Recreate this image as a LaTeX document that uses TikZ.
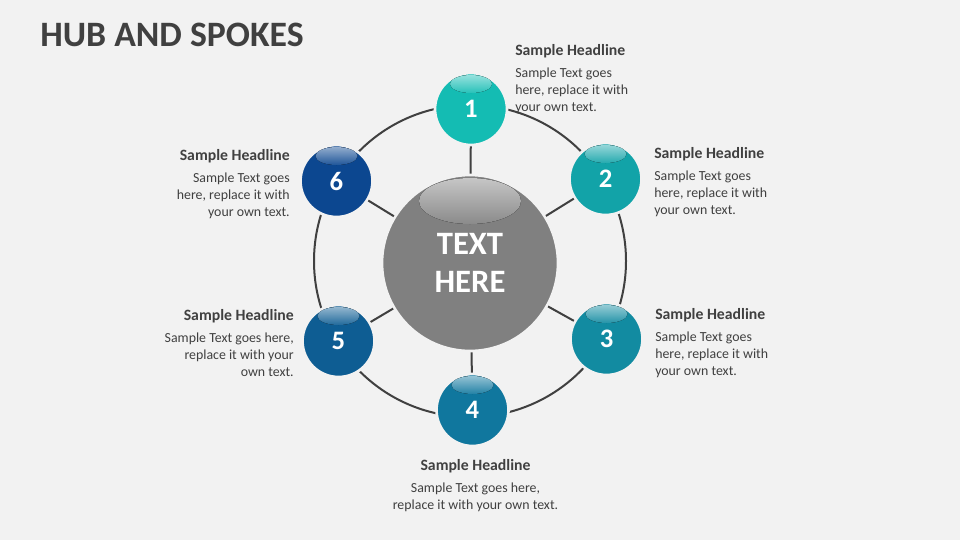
\documentclass[tikz,border=0pt]{standalone}
\usepackage{fontspec}
\setmainfont{Carlito}
\usetikzlibrary{calc}
\definecolor{bgc}{HTML}{F2F2F2}
\definecolor{ink}{HTML}{404040}
\definecolor{hubc}{HTML}{808080}
\definecolor{cOne}{HTML}{14BCB3}
\definecolor{cTwo}{HTML}{12A3A8}
\definecolor{cThree}{HTML}{128BA1}
\definecolor{cFour}{HTML}{10779E}
\definecolor{cFive}{HTML}{0E5D93}
\definecolor{cSix}{HTML}{0C4790}
\newcommand{\headline}[1]{{\bfseries\fontsize{11.8}{12.75}\selectfont #1}}
\begin{document}
\begin{tikzpicture}[
    x=0.75pt, y=-0.75pt,
    spoke/.style={draw=ink, line width=1.5pt},
    hub/.style={circle, fill=hubc, draw=bgc, line width=2pt, minimum size=132pt, text=white, align=center, font=\bfseries\fontsize{24.5}{29}\selectfont},
    num/.style={circle, fill=#1, draw=bgc, line width=2pt, minimum size=54pt, text=white, font=\bfseries\fontsize{20}{20}\selectfont},
    gloss/.style={top color=white!55!#1, bottom color=white!8!#1},
    info/.style={inner sep=0pt, text=ink, font=\fontsize{10.4}{12.75}\selectfont}
]

% Canvas
\useasboundingbox (0,0) rectangle (960,540);
\fill[bgc] (0,0) rectangle (960,540);

% Title
\node[anchor=base west, inner sep=0pt, text=ink, font=\bfseries\fontsize{26.8}{30}\selectfont] (title) at (40,46) {HUB AND SPOKES};

% Hub and ring
\coordinate (c) at (470,261);
\draw[spoke] (c) circle [radius=156];
\node[hub] (hub) at ($(c)+(0,2)$) {TEXT\\HERE};

% Spoke nodes
\node[num=cOne] (n1) at (471,109) {1};
\node[num=cTwo] (n2) at (605.5,179) {2};
\node[num=cThree] (n3) at (606.5,339) {3};
\node[num=cFour] (n4) at (472.5,410) {4};
\node[num=cFive] (n5) at (338.5,341) {5};
\node[num=cSix] (n6) at (336.5,181) {6};

% Spokes
\draw[spoke] (hub) -- (n1);
\draw[spoke] (hub) -- (n2);
\draw[spoke] (hub) -- (n3);
\draw[spoke] (hub) -- (n4);
\draw[spoke] (hub) -- (n5);
\draw[spoke] (hub) -- (n6);

% Glossy highlights
\fill[gloss=hubc] ($(hub.center)+(0,-62)$) ellipse [x radius=51, y radius=23];
\fill[gloss=cOne] ($(n1.center)+(0,-25)$) ellipse [x radius=21, y radius=9];
\fill[gloss=cTwo] ($(n2.center)+(0,-25)$) ellipse [x radius=21, y radius=9];
\fill[gloss=cThree] ($(n3.center)+(0,-25)$) ellipse [x radius=21, y radius=9];
\fill[gloss=cFour] ($(n4.center)+(0,-25)$) ellipse [x radius=21, y radius=9];
\fill[gloss=cFive] ($(n5.center)+(0,-25)$) ellipse [x radius=21, y radius=9];
\fill[gloss=cSix] ($(n6.center)+(0,-25)$) ellipse [x radius=21, y radius=9];

% Text blocks
\node[info, anchor=north west, align=left] (t1) at (515,44) {\headline{Sample Headline}\\[4pt]
Sample Text goes\\here, replace it with\\your own text.};
\node[info, anchor=north west, align=left] (t2) at (654,147) {\headline{Sample Headline}\\[4pt]
Sample Text goes\\here, replace it with\\your own text.};
\node[info, anchor=north west, align=left] (t3) at (655,308) {\headline{Sample Headline}\\[4pt]
Sample Text goes\\here, replace it with\\your own text.};
\node[info, anchor=north, align=center] (t4) at (475.5,459) {\headline{Sample Headline}\\[4pt]
Sample Text goes here,\\replace it with your own text.};
\node[info, anchor=north east, align=right] (t5) at (294,309) {\headline{Sample Headline}\\[4pt]
Sample Text goes here,\\replace it with your\\own text.};
\node[info, anchor=north east, align=right] (t6) at (290,149) {\headline{Sample Headline}\\[4pt]
Sample Text goes\\here, replace it with\\your own text.};

\end{tikzpicture}
\end{document}
